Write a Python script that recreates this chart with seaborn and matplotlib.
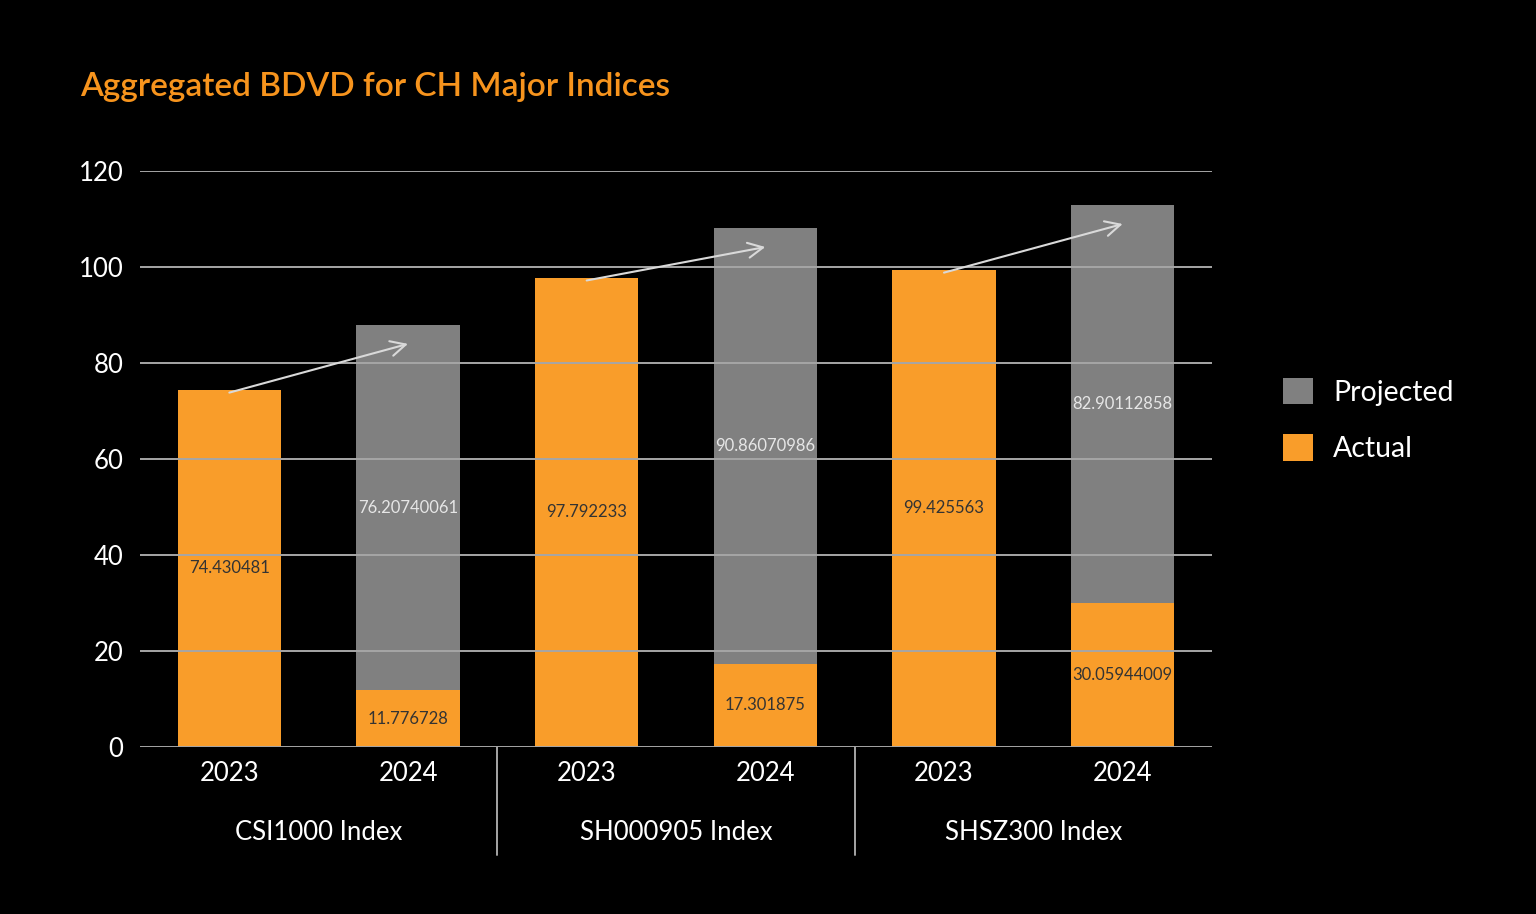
import pandas as pd
import seaborn as sns
import matplotlib.pyplot as plt
from matplotlib.patches import Patch

# chart values
indices = ['CSI1000 Index', 'SH000905 Index', 'SHSZ300 Index']
years = ['2023', '2024']
actual = [74.430481, 11.776728, 97.792233, 17.301875, 99.425563, 30.05944009]
projected = [0, 76.20740061, 0, 90.86070986, 0, 82.90112858]

orange = '#F99D2A'
grey = '#808080'

rows = []
for i, idx in enumerate(indices):
    for j, yr in enumerate(years):
        k = i * 2 + j
        rows.append({'key': idx + ' ' + yr, 'index': idx, 'year': yr,
                     'actual': actual[k], 'projected': projected[k],
                     'total': actual[k] + projected[k]})
df = pd.DataFrame(rows)
order = list(df['key'])

sns.set_theme(style='dark')
plt.rcParams['font.family'] = ['Lato', 'DejaVu Sans']

fig = plt.figure(figsize=(15.36, 9.14), dpi=100, facecolor='black')
ax = fig.add_axes([140 / 1536, 1 - 747 / 914, 1072 / 1536, 576 / 914])
ax.set_facecolor('black')

# stacked bars: total (grey) behind, actual (orange) on top
sns.barplot(data=df, x='key', y='total', order=order, color=grey,
            width=0.58, saturation=1, linewidth=0, ax=ax)
sns.barplot(data=df, x='key', y='actual', order=order, color=orange,
            width=0.58, saturation=1, linewidth=0, ax=ax)

ax.set_ylim(0, 120)
ax.set_xlim(-0.5, 5.5)
ax.set_yticks(range(0, 121, 20))
ax.set_xticks(range(6))
ax.set_xticklabels(list(df['year']))
ax.tick_params(axis='x', colors='white', labelsize=18.5, pad=10, length=0)
ax.tick_params(axis='y', colors='white', labelsize=18.5, pad=12, length=0)
ax.set_xlabel('')
ax.set_ylabel('')
for s in ax.spines.values():
    s.set_visible(False)
ax.yaxis.grid(True, color='#a6a6a6', linewidth=1.4)
ax.xaxis.grid(False)
ax.set_axisbelow(False)

# value labels in the middle of each segment
for k, r in df.iterrows():
    ax.text(k, r['actual'] / 2, f"{r['actual']:.10g}", ha='center', va='center',
            fontsize=12, color='#333333', zorder=5)
    if r['projected'] > 0:
        ax.text(k, r['actual'] + r['projected'] / 2, f"{r['projected']:.10g}",
                ha='center', va='center', fontsize=12, color='#e6e6e6', zorder=5)

# growth arrows from 2023 top to 2024 top
for i in range(3):
    a, b = df.iloc[i * 2], df.iloc[i * 2 + 1]
    ax.annotate('', xy=(i * 2 + 1, b['total'] - 4), xytext=(i * 2, a['total'] - 0.6),
                arrowprops=dict(arrowstyle='->,head_length=0.9,head_width=0.45',
                                color='#d9d9d9', lw=1.5, shrinkA=0, shrinkB=0),
                zorder=6)

# group labels and separators under the axis
trans = ax.get_xaxis_transform()
for i, idx in enumerate(indices):
    ax.text(i * 2 + 0.5, -0.1476, idx, transform=trans, ha='center', va='center',
            fontsize=18.5, color='white')
for x in [1.5, 3.5]:
    ax.plot([x, x], [0, -0.1875], transform=trans, color='#a6a6a6', lw=1.4,
            clip_on=False)

handles = [Patch(facecolor=grey, edgecolor='none', label='Projected'),
           Patch(facecolor=orange, edgecolor='none', label='Actual')]
fig.legend(handles=handles, loc='upper left', bbox_to_anchor=(1283 / 1536, 1 - 378 / 914),
           frameon=False, fontsize=20.5, labelcolor='white', handlelength=1.05,
           handleheight=1.05, handletextpad=0.72, labelspacing=1.0,
           borderpad=0, borderaxespad=0)

fig.text(80 / 1536, 1 - 87 / 914, 'Aggregated BDVD for CH Major Indices',
         fontsize=24, color='#F7941D', ha='left', va='center', fontweight='semibold')

fig.savefig('out.png', dpi=100, facecolor='black')
